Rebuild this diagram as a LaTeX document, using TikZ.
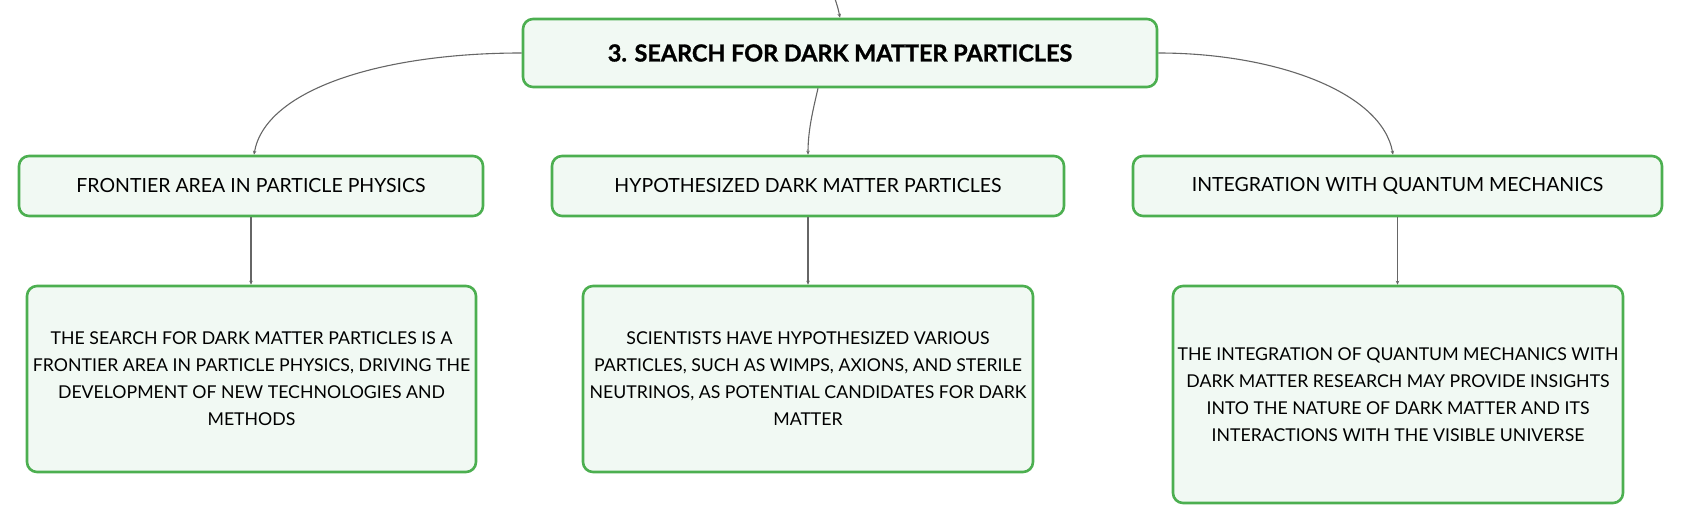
\documentclass[tikz,border=0pt]{standalone}
\usepackage{fontspec}
\setmainfont{Lato}
\newfontfamily\titlefont{Lato}[BoldFeatures={FakeBold=1.2}]
\usetikzlibrary{arrows.meta}
\definecolor{boxgreen}{HTML}{4CAF50}
\definecolor{boxfill}{HTML}{F1F9F3}
\definecolor{linkgray}{HTML}{666666}
\begin{document}
\begin{tikzpicture}[x=1pt,y=-1pt,
  box/.style={draw=boxgreen, line width=2.6pt, fill=boxfill, rounded corners=10pt,
    align=center, inner sep=0pt, text=black},
  titlebox/.style={box, minimum width=634pt, minimum height=68pt,
    font=\titlefont\bfseries\fontsize{23.4}{28}\selectfont},
  topicbox/.style={box, minimum height=60pt, font=\fontsize{19.5}{23}\selectfont},
  detailbox/.style={box, minimum width=450pt, font=\fontsize{17.7}{27}\selectfont},
  link/.style={draw=linkgray, line width=1.1pt, -{Stealth[length=4pt,width=3.5pt]}}
]
\useasboundingbox (0,0) rectangle (1682,526);

\node[titlebox] (main) at (840,53) {3. SEARCH FOR DARK MATTER PARTICLES};

\node[topicbox, minimum width=464pt] (t1) at (251,186) {FRONTIER AREA IN PARTICLE PHYSICS};
\node[topicbox, minimum width=512pt] (t2) at (808,186) {HYPOTHESIZED DARK MATTER PARTICLES};
\node[topicbox, minimum width=529pt] (t3) at (1397.5,186) {INTEGRATION WITH QUANTUM MECHANICS};

\node[detailbox, minimum width=449pt, minimum height=186pt] (d1) at (251.5,379)
  {THE SEARCH FOR DARK MATTER PARTICLES IS A\\FRONTIER AREA IN PARTICLE PHYSICS, DRIVING THE\\DEVELOPMENT OF NEW TECHNOLOGIES AND\\METHODS};
\node[detailbox, minimum height=186pt] (d2) at (808,379)
  {SCIENTISTS HAVE HYPOTHESIZED VARIOUS\\PARTICLES, SUCH AS WIMPS, AXIONS, AND STERILE\\NEUTRINOS, AS POTENTIAL CANDIDATES FOR DARK\\MATTER};
\node[detailbox, minimum height=217pt] (d3) at (1398,394.5)
  {THE INTEGRATION OF QUANTUM MECHANICS WITH\\DARK MATTER RESEARCH MAY PROVIDE INSIGHTS\\INTO THE NATURE OF DARK MATTER AND ITS\\INTERACTIONS WITH THE VISIBLE UNIVERSE};

\coordinate (up) at (835,-1);
\draw[link] (up) .. controls (838,8) .. (main.north);
\draw[link] (main.west) .. controls (380,53) and (265,90) .. ([xshift=3pt]t1.north);
\draw[link] ([xshift=-22pt]main.south) .. controls (813,110) and (808,130) .. (t2.north);
\draw[link] (main.east) .. controls (1275,53) and (1382,92) .. ([xshift=-4.5pt]t3.north);
\draw[link] (t1.south) -- (t1.south |- d1.north);
\draw[link] (t2.south) -- (d2.north);
\draw[link] (t3.south) -- (t3.south |- d3.north);
\end{tikzpicture}
\end{document}
